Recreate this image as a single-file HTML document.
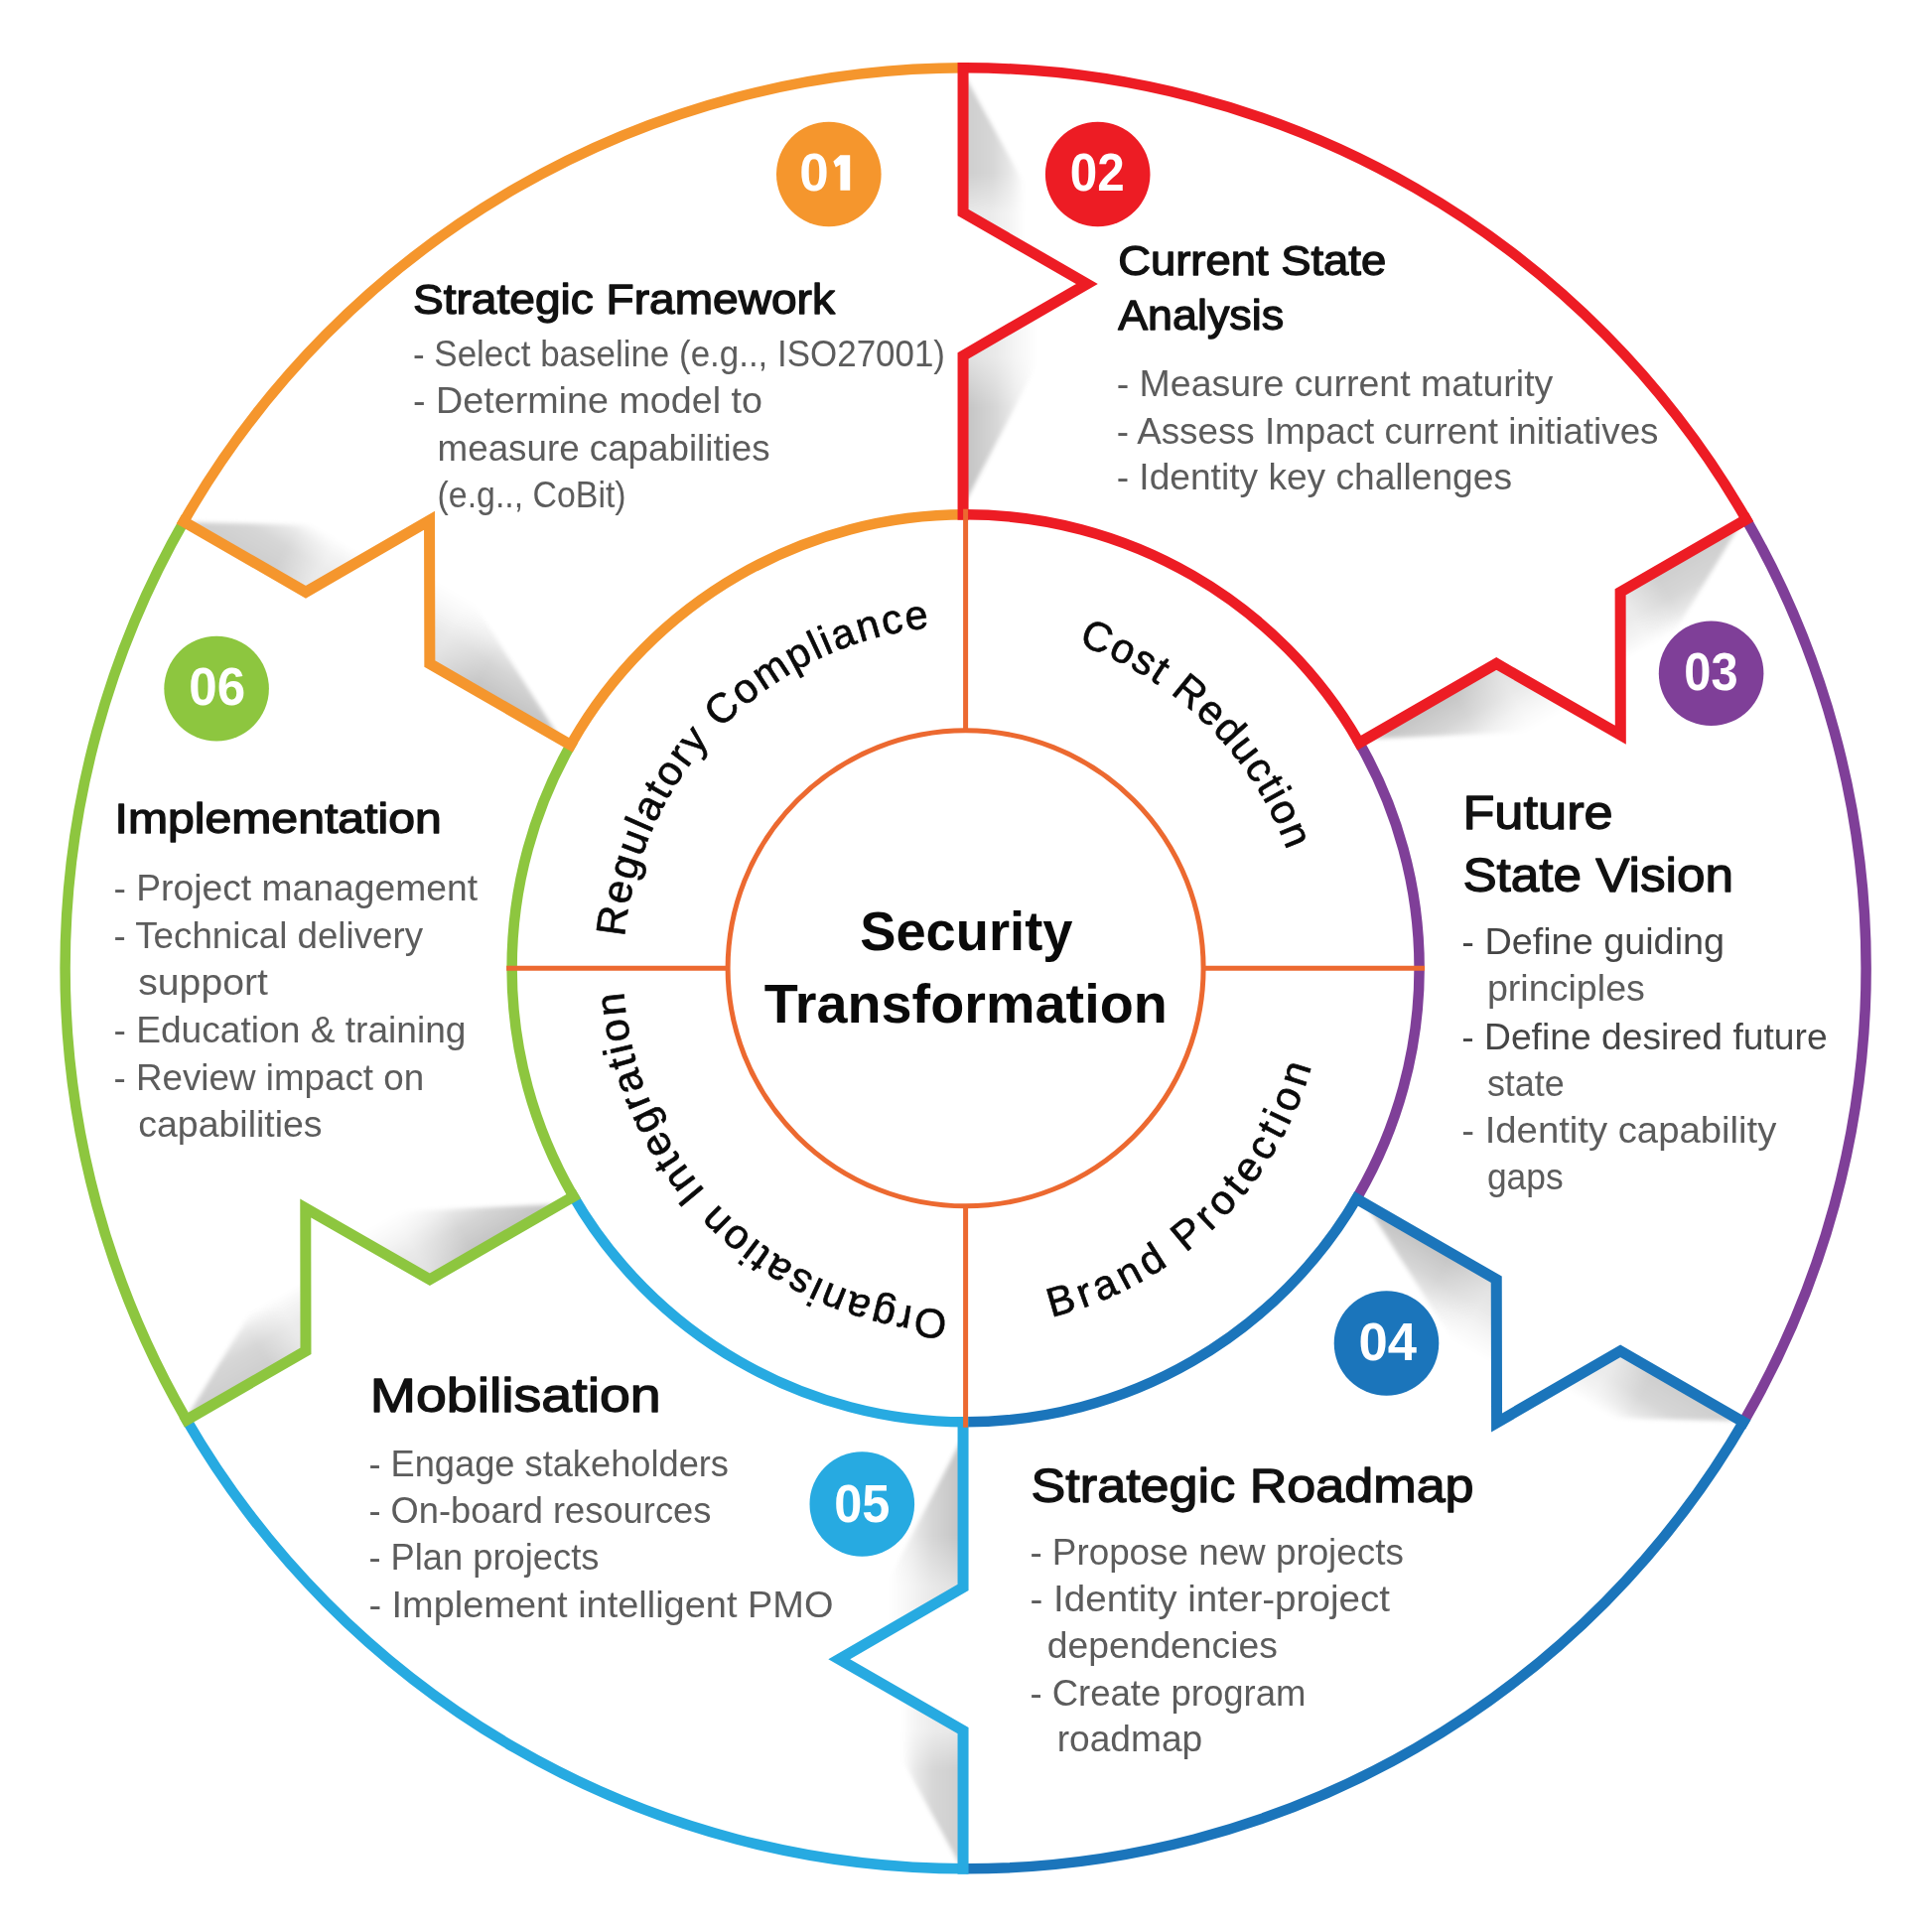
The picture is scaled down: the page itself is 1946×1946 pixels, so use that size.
<!DOCTYPE html>
<html><head><meta charset="utf-8"><title>Security Transformation</title>
<style>html,body{margin:0;padding:0;background:#fff;overflow:hidden}svg{display:block;will-change:transform}text{font-family:"Liberation Sans",sans-serif}</style>
</head><body>
<svg xmlns="http://www.w3.org/2000/svg" width="1946" height="1946" viewBox="0 0 1946 1946">
<defs>
<linearGradient id="gA" gradientUnits="userSpaceOnUse" x1="4" y1="0" x2="62" y2="0"><stop offset="0" stop-color="#000" stop-opacity="0.19"/><stop offset="0.45" stop-color="#000" stop-opacity="0.16"/><stop offset="0.75" stop-color="#000" stop-opacity="0.09"/><stop offset="1" stop-color="#000" stop-opacity="0.0"/></linearGradient>
<linearGradient id="mA" gradientUnits="userSpaceOnUse" x1="0" y1="-803.6" x2="0" y2="-763.6"><stop offset="0" stop-color="#fff"/><stop offset="1" stop-color="#777"/></linearGradient>
<mask id="maskA" maskUnits="userSpaceOnUse" x="-20" y="-920" width="160" height="240"><rect x="-20" y="-920" width="160" height="240" fill="url(#mA)"/></mask>
<linearGradient id="gB" gradientUnits="userSpaceOnUse" x1="4" y1="0" x2="75" y2="0"><stop offset="0" stop-color="#000" stop-opacity="0.23"/><stop offset="0.4" stop-color="#000" stop-opacity="0.16"/><stop offset="0.7" stop-color="#000" stop-opacity="0.07"/><stop offset="1" stop-color="#000" stop-opacity="0.0"/></linearGradient>
<linearGradient id="mB" gradientUnits="userSpaceOnUse" x1="0" y1="-618.6" x2="0" y2="-568.6"><stop offset="0" stop-color="#888"/><stop offset="1" stop-color="#fff"/></linearGradient>
<mask id="maskB" maskUnits="userSpaceOnUse" x="-20" y="-700" width="160" height="230"><rect x="-20" y="-700" width="160" height="230" fill="url(#mB)"/></mask>
<filter id="blur1" x="-20%" y="-20%" width="140%" height="140%"><feGaussianBlur stdDeviation="2.2"/></filter>
<path id="pReg" d="M627.81,963.26 A345,345 0 0 1 1145.10,676.52"/>
<path id="pCost" d="M1079.21,647.19 A345,345 0 0 1 1312.36,1035.21"/>
<path id="pOrg" d="M972.60,1320.30 A345,345 0 0 1 648.41,857.30"/>
<path id="pBrand" d="M1035.46,1331.80 A362,362 0 0 0 1329.10,912.44"/>
</defs>
<rect width="1946" height="1946" fill="#fff"/>
<g transform="translate(970.05,978.6)">
<g transform="rotate(0)"><g filter="url(#blur1)"><path d="M0,-905.6 L0,-763.5 L112.7,-699.6 Z" fill="url(#gA)" mask="url(#maskA)"/><path d="M0,-619.3 L112.5,-684.9 L0,-468.4 Z" fill="url(#gB)" mask="url(#maskB)"/></g></g>
<g transform="rotate(60)"><g filter="url(#blur1)"><path d="M0,-905.6 L0,-763.5 L112.7,-699.6 Z" fill="url(#gA)" mask="url(#maskA)"/><path d="M0,-619.3 L112.5,-684.9 L0,-468.4 Z" fill="url(#gB)" mask="url(#maskB)"/></g></g>
<g transform="rotate(120)"><g filter="url(#blur1)"><path d="M0,-905.6 L0,-763.5 L112.7,-699.6 Z" fill="url(#gA)" mask="url(#maskA)"/><path d="M0,-619.3 L112.5,-684.9 L0,-468.4 Z" fill="url(#gB)" mask="url(#maskB)"/></g></g>
<g transform="rotate(180)"><g filter="url(#blur1)"><path d="M0,-905.6 L0,-763.5 L112.7,-699.6 Z" fill="url(#gA)" mask="url(#maskA)"/><path d="M0,-619.3 L112.5,-684.9 L0,-468.4 Z" fill="url(#gB)" mask="url(#maskB)"/></g></g>
<g transform="rotate(240)"><g filter="url(#blur1)"><path d="M0,-905.6 L0,-763.5 L112.7,-699.6 Z" fill="url(#gA)" mask="url(#maskA)"/><path d="M0,-619.3 L112.5,-684.9 L0,-468.4 Z" fill="url(#gB)" mask="url(#maskB)"/></g></g>
<g transform="rotate(300)"><g filter="url(#blur1)"><path d="M0,-905.6 L0,-763.5 L112.7,-699.6 Z" fill="url(#gA)" mask="url(#maskA)"/><path d="M0,-619.3 L112.5,-684.9 L0,-468.4 Z" fill="url(#gB)" mask="url(#maskB)"/></g></g>
</g>
<path d="M187.11,521.80 A907.0,907.0 0 0 1 972.60,68.30" fill="none" stroke="#F5962D" stroke-width="10.5"/>
<path d="M972.60,68.30 A907.0,907.0 0 0 1 1758.09,521.80" fill="none" stroke="#ED1C24" stroke-width="10.5"/>
<path d="M1758.09,521.80 A907.0,907.0 0 0 1 1758.09,1428.80" fill="none" stroke="#7F3F98" stroke-width="10.5"/>
<path d="M1758.09,1428.80 A907.0,907.0 0 0 1 972.60,1882.30" fill="none" stroke="#1B75BB" stroke-width="10.5"/>
<path d="M972.60,1882.30 A907.0,907.0 0 0 1 187.11,1428.80" fill="none" stroke="#27AAE1" stroke-width="10.5"/>
<path d="M187.11,1428.80 A907.0,907.0 0 0 1 187.11,521.80" fill="none" stroke="#8DC63F" stroke-width="10.5"/>
<path d="M576.83,746.80 A457.0,457.0 0 0 1 972.60,518.30" fill="none" stroke="#F5962D" stroke-width="10.5"/>
<path d="M972.60,518.30 A457.0,457.0 0 0 1 1368.37,746.80" fill="none" stroke="#ED1C24" stroke-width="10.5"/>
<path d="M1368.37,746.80 A457.0,457.0 0 0 1 1368.37,1203.80" fill="none" stroke="#7F3F98" stroke-width="10.5"/>
<path d="M1368.37,1203.80 A457.0,457.0 0 0 1 972.60,1432.30" fill="none" stroke="#1B75BB" stroke-width="10.5"/>
<path d="M972.60,1432.30 A457.0,457.0 0 0 1 576.83,1203.80" fill="none" stroke="#27AAE1" stroke-width="10.5"/>
<path d="M576.83,1203.80 A457.0,457.0 0 0 1 576.83,746.80" fill="none" stroke="#8DC63F" stroke-width="10.5"/>
<g transform="translate(970.05,978.6)">
<path transform="rotate(0)" d="M0.00,-915.70 L0.00,-764.50 L124.75,-692.70 L0.00,-620.30 L0.00,-454.89" fill="none" stroke="#ED1C24" stroke-width="11" stroke-linejoin="miter" stroke-miterlimit="10"/>
<path transform="rotate(60)" d="M0.00,-916.26 L0.00,-764.50 L124.75,-692.70 L0.00,-620.30 L0.00,-455.46" fill="none" stroke="#ED1C24" stroke-width="11" stroke-linejoin="miter" stroke-miterlimit="10"/>
<path transform="rotate(120)" d="M0.00,-912.95 L0.00,-764.50 L124.75,-692.70 L0.00,-620.30 L0.00,-452.14" fill="none" stroke="#1B75BB" stroke-width="11" stroke-linejoin="miter" stroke-miterlimit="10"/>
<path transform="rotate(180)" d="M0.00,-909.10 L0.00,-764.50 L124.75,-692.70 L0.00,-620.30 L0.00,-448.29" fill="none" stroke="#27AAE1" stroke-width="11" stroke-linejoin="miter" stroke-miterlimit="10"/>
<path transform="rotate(240)" d="M0.00,-908.54 L0.00,-764.50 L124.75,-692.70 L0.00,-620.30 L0.00,-447.74" fill="none" stroke="#8DC63F" stroke-width="11" stroke-linejoin="miter" stroke-miterlimit="10"/>
<path transform="rotate(300)" d="M0.00,-911.83 L0.00,-764.50 L124.75,-692.70 L0.00,-620.30 L0.00,-451.02" fill="none" stroke="#F5962D" stroke-width="11" stroke-linejoin="miter" stroke-miterlimit="10"/>
</g>
<g stroke="#EC6930" stroke-width="5.0" fill="none">
<circle cx="972.6" cy="975.3" r="239.5"/>
<line x1="972.6" y1="512.8" x2="972.6" y2="735.8"/>
<line x1="972.6" y1="1214.8" x2="972.6" y2="1437.8"/>
<line x1="510.1" y1="975.3" x2="733.1" y2="975.3"/>
<line x1="1212.1" y1="975.3" x2="1435.1" y2="975.3"/>
</g>
<circle cx="834.8" cy="175.5" r="52.8" fill="#F5962D"/>
<circle cx="1105.7" cy="175.5" r="52.8" fill="#ED1C24"/>
<circle cx="1723.6" cy="678.3" r="52.8" fill="#7F3F98"/>
<circle cx="1396.5" cy="1353" r="52.8" fill="#1B75BB"/>
<circle cx="868.3" cy="1515" r="52.8" fill="#27AAE1"/>
<circle cx="218.1" cy="693.6" r="52.8" fill="#8DC63F"/>
<text x="805.2" y="192.4" font-size="53" font-weight="bold" fill="#fff">0</text>
<path d="M846.4,156.3 L856.2,156.3 L856.2,191.8 L846.4,191.8 L846.4,165.8 L841.8,168.4 L839.4,162.4 Z" fill="#fff"/>
<text x="1077.8" y="192.4" font-size="53" font-weight="bold" fill="#fff" textLength="55.0" lengthAdjust="spacingAndGlyphs">02</text>
<text x="1696.3" y="695.2" font-size="53" font-weight="bold" fill="#fff" textLength="54.3" lengthAdjust="spacingAndGlyphs">03</text>
<text x="1368.4" y="1370.3" font-size="53" font-weight="bold" fill="#fff" textLength="58.5" lengthAdjust="spacingAndGlyphs">04</text>
<text x="840.2" y="1532.8" font-size="53" font-weight="bold" fill="#fff" textLength="56.2" lengthAdjust="spacingAndGlyphs">05</text>
<text x="190.2" y="710.4" font-size="53" font-weight="bold" fill="#fff" textLength="56.9" lengthAdjust="spacingAndGlyphs">06</text>
<text x="416.0" y="316.4" font-size="42" font-weight="normal" fill="#111111" stroke="#111111" stroke-width="1.3" stroke-linejoin="round" textLength="425.0" lengthAdjust="spacingAndGlyphs">Strategic Framework</text>
<text x="416.0" y="368.6" font-size="36.5" font-weight="normal" fill="#5C5C5C" textLength="536.0" lengthAdjust="spacingAndGlyphs">- Select baseline (e.g.., ISO27001)</text>
<text x="416.0" y="416.4" font-size="36.5" font-weight="normal" fill="#5C5C5C" textLength="352.0" lengthAdjust="spacingAndGlyphs">- Determine model to</text>
<text x="440.6" y="463.6" font-size="36.5" font-weight="normal" fill="#5C5C5C" textLength="335.0" lengthAdjust="spacingAndGlyphs">measure capabilities</text>
<text x="440.6" y="510.6" font-size="36.5" font-weight="normal" fill="#5C5C5C" textLength="190.0" lengthAdjust="spacingAndGlyphs">(e.g.., CoBit)</text>
<text x="1126.2" y="276.6" font-size="42" font-weight="normal" fill="#111111" stroke="#111111" stroke-width="1.3" stroke-linejoin="round" textLength="270.0" lengthAdjust="spacingAndGlyphs">Current State</text>
<text x="1126.2" y="331.8" font-size="42" font-weight="normal" fill="#111111" stroke="#111111" stroke-width="1.3" stroke-linejoin="round" textLength="167.0" lengthAdjust="spacingAndGlyphs">Analysis</text>
<text x="1124.7" y="398.7" font-size="36.5" font-weight="normal" fill="#5C5C5C" textLength="439.6" lengthAdjust="spacingAndGlyphs">- Measure current maturity</text>
<text x="1124.7" y="446.8" font-size="36.5" font-weight="normal" fill="#5C5C5C" textLength="545.8" lengthAdjust="spacingAndGlyphs">- Assess Impact current initiatives</text>
<text x="1124.7" y="492.5" font-size="36.5" font-weight="normal" fill="#5C5C5C" textLength="398.3" lengthAdjust="spacingAndGlyphs">- Identity key challenges</text>
<text x="1473.4" y="834.5" font-size="48.5" font-weight="normal" fill="#111111" stroke="#111111" stroke-width="1.3" stroke-linejoin="round" textLength="151.3" lengthAdjust="spacingAndGlyphs">Future</text>
<text x="1473.4" y="898.0" font-size="48.5" font-weight="normal" fill="#111111" stroke="#111111" stroke-width="1.3" stroke-linejoin="round" textLength="272.6" lengthAdjust="spacingAndGlyphs">State Vision</text>
<text x="1472.3" y="961.4" font-size="36.5" font-weight="normal" fill="#454545" textLength="264.8" lengthAdjust="spacingAndGlyphs">- Define guiding</text>
<text x="1497.9" y="1008.1" font-size="36.5" font-weight="normal" fill="#5C5C5C" textLength="159.0" lengthAdjust="spacingAndGlyphs">principles</text>
<text x="1472.3" y="1057.1" font-size="36.5" font-weight="normal" fill="#454545" textLength="368.3" lengthAdjust="spacingAndGlyphs">- Define desired future</text>
<text x="1497.9" y="1103.8" font-size="36.5" font-weight="normal" fill="#5C5C5C" textLength="77.8" lengthAdjust="spacingAndGlyphs">state</text>
<text x="1472.3" y="1150.6" font-size="36.5" font-weight="normal" fill="#5C5C5C" textLength="317.0" lengthAdjust="spacingAndGlyphs">- Identity capability</text>
<text x="1497.9" y="1198.4" font-size="36.5" font-weight="normal" fill="#5C5C5C" textLength="76.7" lengthAdjust="spacingAndGlyphs">gaps</text>
<text x="115.5" y="839.3" font-size="42" font-weight="normal" fill="#111111" stroke="#111111" stroke-width="1.3" stroke-linejoin="round" textLength="329.2" lengthAdjust="spacingAndGlyphs">Implementation</text>
<text x="114.5" y="907.0" font-size="36.5" font-weight="normal" fill="#5C5C5C" textLength="366.5" lengthAdjust="spacingAndGlyphs">- Project management</text>
<text x="114.5" y="954.6" font-size="36.5" font-weight="normal" fill="#5C5C5C" textLength="311.5" lengthAdjust="spacingAndGlyphs">- Technical delivery</text>
<text x="139.3" y="1002.2" font-size="36.5" font-weight="normal" fill="#5C5C5C" textLength="130.5" lengthAdjust="spacingAndGlyphs">support</text>
<text x="114.5" y="1049.8" font-size="36.5" font-weight="normal" fill="#5C5C5C" textLength="355.0" lengthAdjust="spacingAndGlyphs">- Education &amp; training</text>
<text x="114.5" y="1097.9" font-size="36.5" font-weight="normal" fill="#5C5C5C" textLength="312.6" lengthAdjust="spacingAndGlyphs">- Review impact on</text>
<text x="139.3" y="1145.0" font-size="36.5" font-weight="normal" fill="#5C5C5C" textLength="185.3" lengthAdjust="spacingAndGlyphs">capabilities</text>
<text x="372.7" y="1422.0" font-size="48.5" font-weight="normal" fill="#111111" stroke="#111111" stroke-width="1.3" stroke-linejoin="round" textLength="293.0" lengthAdjust="spacingAndGlyphs">Mobilisation</text>
<text x="371.4" y="1486.7" font-size="36.5" font-weight="normal" fill="#5C5C5C" textLength="362.6" lengthAdjust="spacingAndGlyphs">- Engage stakeholders</text>
<text x="371.4" y="1533.6" font-size="36.5" font-weight="normal" fill="#5C5C5C" textLength="345.0" lengthAdjust="spacingAndGlyphs">- On-board resources</text>
<text x="371.4" y="1580.5" font-size="36.5" font-weight="normal" fill="#5C5C5C" textLength="232.0" lengthAdjust="spacingAndGlyphs">- Plan projects</text>
<text x="371.4" y="1629.2" font-size="36.5" font-weight="normal" fill="#5C5C5C" textLength="468.0" lengthAdjust="spacingAndGlyphs">- Implement intelligent PMO</text>
<text x="1038.6" y="1513.4" font-size="48.5" font-weight="normal" fill="#111111" stroke="#111111" stroke-width="1.3" stroke-linejoin="round" textLength="446.0" lengthAdjust="spacingAndGlyphs">Strategic Roadmap</text>
<text x="1037.4" y="1575.5" font-size="36.5" font-weight="normal" fill="#5C5C5C" textLength="376.4" lengthAdjust="spacingAndGlyphs">- Propose new projects</text>
<text x="1037.4" y="1622.7" font-size="36.5" font-weight="normal" fill="#5C5C5C" textLength="362.6" lengthAdjust="spacingAndGlyphs">- Identity inter-project</text>
<text x="1054.8" y="1670.0" font-size="36.5" font-weight="normal" fill="#5C5C5C" textLength="232.0" lengthAdjust="spacingAndGlyphs">dependencies</text>
<text x="1037.4" y="1718.4" font-size="36.5" font-weight="normal" fill="#5C5C5C" textLength="278.0" lengthAdjust="spacingAndGlyphs">- Create program</text>
<text x="1064.7" y="1764.3" font-size="36.5" font-weight="normal" fill="#5C5C5C" textLength="146.6" lengthAdjust="spacingAndGlyphs">roadmap</text>
<text x="866.2" y="957.4" font-size="55" font-weight="bold" fill="#0A0A0A" textLength="214.3" lengthAdjust="spacingAndGlyphs">Security</text>
<text x="769.8" y="1030.0" font-size="55" font-weight="bold" fill="#0A0A0A" textLength="406.0" lengthAdjust="spacingAndGlyphs">Transformation</text>
<text font-size="41.5" font-weight="normal" fill="#0A0A0A" stroke="#0A0A0A" stroke-width="0.7"><textPath href="#pReg" startOffset="19.26843494201733" textLength="474" lengthAdjust="spacing">Regulatory Compliance</textPath></text>
<text font-size="41.5" font-weight="normal" fill="#0A0A0A" stroke="#0A0A0A" stroke-width="0.7"><textPath href="#pCost" startOffset="7.042771838760874" textLength="305" lengthAdjust="spacing">Cost Reduction</textPath></text>
<text font-size="41.5" font-weight="normal" fill="#0A0A0A" stroke="#0A0A0A" stroke-width="0.7"><textPath href="#pOrg" startOffset="18.064157758141313" textLength="500" lengthAdjust="spacing">Organisation Integration</textPath></text>
<text font-size="41.5" font-weight="normal" fill="#0A0A0A" stroke="#0A0A0A" stroke-width="0.7"><textPath href="#pBrand" startOffset="24.06322270420954" textLength="381" lengthAdjust="spacing">Brand Protection</textPath></text>
</svg>
</body></html>
